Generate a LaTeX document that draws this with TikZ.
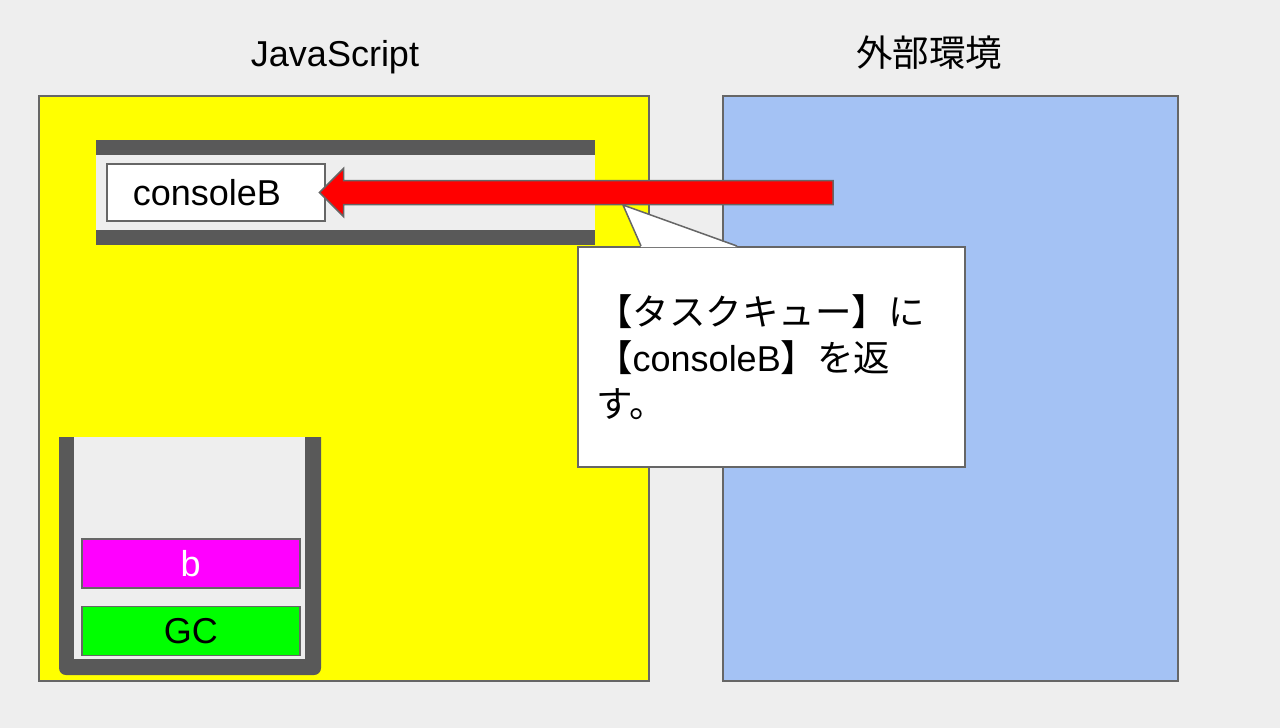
\documentclass[tikz,border=0pt]{standalone}
\usepackage{fontspec}
\setmainfont{Liberation Sans}
\newfontfamily\jpfont{Noto Sans CJK JP}
\usetikzlibrary{positioning,calc}
\definecolor{slidebg}{HTML}{EEEEEE}
\definecolor{edgegray}{HTML}{666666}
\definecolor{bargray}{HTML}{595959}
\definecolor{jsyellow}{HTML}{FFFF00}
\definecolor{envblue}{HTML}{A4C2F4}
\definecolor{arrowred}{HTML}{FF0000}
\definecolor{framemag}{HTML}{FF00FF}
\definecolor{framegreen}{HTML}{00FF00}
\tikzset{
	bigtext/.style={font=\fontsize{36}{46}\selectfont},
	jptext/.style={font=\jpfont\fontsize{36.5}{46}\selectfont},
	panel/.style={draw=edgegray, line width=1.5pt, anchor=north west, inner sep=0pt},
	item/.style={draw=edgegray, line width=1.5pt, minimum width=218pt, minimum height=49pt,
			inner sep=0pt, bigtext},
	blockarrow/.style={fill=arrowred, draw=edgegray, line width=1.5pt, line join=miter}
}

\begin{document}
\begin{tikzpicture}[x=1pt,y=-1pt]
		% Background
		\fill[slidebg] (0,0) rectangle (1280,728);
		\useasboundingbox (0,0) rectangle (1280,728);
		% Panels
		\node[panel, fill=jsyellow, minimum width=610pt, minimum height=585pt] (js) at (38,95) {};
		\node[panel, fill=envblue, minimum width=455pt, minimum height=585pt] (env) at (722,95) {};
		\node[bigtext, anchor=base] (jstitle) at (335,66) {JavaScript};
		\node[jptext, anchor=base] (envtitle) at (929,66) {外部環境};
		% Task queue
		\node[fill=slidebg, anchor=north west, minimum width=499pt, minimum height=75pt, inner sep=0pt] (queue) at (96,155) {};
		\fill[bargray] ($(queue.north west)+(0,-15)$) rectangle (queue.north east);
		\fill[bargray] (queue.south west) rectangle ($(queue.south east)+(0,15)$);
		\node[item, fill=white, minimum height=57pt, text width=166pt, align=left, anchor=west] (cb) at (106,192.5) {consoleB};
		% Arrow from the environment
		\coordinate (src) at (833,192.5);
		\draw[blockarrow] ($(cb.east)+(-6,0)$) coordinate (tip) -- ++(24,-24) -- ++(0,12)
			-- ($(src)+(0,-12)$) -- ($(src)+(0,12)$) -- ($(tip)+(24,12)$) -- ($(tip)+(24,24)$) -- cycle;
		% Call stack
		\begin{scope}
			\clip (0,437) rectangle (1280,728);
			\fill[bargray, rounded corners=7pt] (59,420) rectangle (321,675);
		\end{scope}
		\node[fill=slidebg, anchor=north west, minimum width=231pt, minimum height=222pt, inner sep=0pt] (stack) at (74,437) {};
		\node[item, fill=framemag, text=white, anchor=north west] (vb) at (81,538) {b};
		\node[item, fill=framegreen, below=17pt of vb] (vgc) {GC};
		% Callout
		\node[panel, fill=white, minimum width=387pt, minimum height=220pt] (note) at (577,246) {};
		\coordinate (ptip) at (623,205);
		\fill[white] ($(note.north west)+(64,1)$) -- (ptip) -- ($(note.north west)+(160,1)$) -- cycle;
		\draw[edgegray, line width=1.5pt] ($(note.north west)+(64,0)$) -- (ptip) -- ($(note.north west)+(160,0)$);
		\node[jptext, anchor=north west, align=left, inner sep=0pt] (notetext) at (596,294)
			{【タスクキュー】に\\【{\rmfamily\fontsize{36}{46}\selectfont consoleB}】を返\\す。};
	\end{tikzpicture}
\end{document}
